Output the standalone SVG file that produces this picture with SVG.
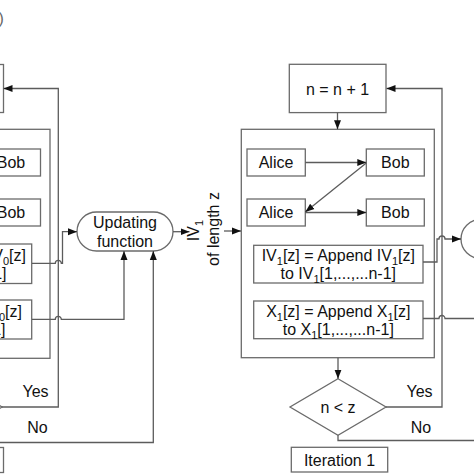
<svg xmlns="http://www.w3.org/2000/svg" width="474" height="474" viewBox="0 0 474 474">
<defs>
<style>
.box{fill:#fff;stroke:#6b6b6b;stroke-width:1.3}
.ln{fill:none;stroke:#5c5c5c;stroke-width:1.3}
.arr{marker-end:url(#ah)}
text{font-family:"Liberation Sans",Arial,sans-serif;font-size:16px;fill:#111}
.c{text-anchor:middle}
.e{text-anchor:end}
.sub{font-size:11px}
</style>
<marker id="ah" markerWidth="10" markerHeight="8" refX="9" refY="4" orient="auto" markerUnits="userSpaceOnUse"><path d="M0,0.5 L9,4 L0,7.5 z" fill="#111"/></marker>
</defs>
<rect width="474" height="474" fill="#fff"/>
<text x="-1.5" y="23.5" fill="#555" style="fill:#666">)</text>

<!-- Left iteration (partially visible) -->
<g id="left-increment"><rect class="box" x="-94" y="64.5" width="97.5" height="48"/></g>
<g id="left-block"><rect class="box" x="-143" y="129.3" width="193" height="229"/></g>
<g id="left-bob1"><rect class="box" x="-18" y="149" width="58.5" height="27"/><text class="c" x="11" y="168.3">Bob</text></g>
<g id="left-bob2"><rect class="box" x="-18" y="199" width="58.5" height="27"/><text class="c" x="11" y="218.3">Bob</text></g>
<g id="left-iv"><rect class="box" x="-140" y="244" width="171.7" height="39.5"/>
<text class="e" x="26" y="261">IV<tspan class="sub" dy="4">0</tspan><tspan dy="-4">[z]</tspan></text>
<text class="e" x="6.5" y="279">n-1]</text></g>
<g id="left-x"><rect class="box" x="-140" y="300" width="171.7" height="39"/>
<text class="e" x="22" y="317">X<tspan class="sub" dy="4">0</tspan><tspan dy="-4">[z]</tspan></text>
<text class="e" x="5.5" y="335">n-1]</text></g>
<g id="left-decision"><polygon class="box" points="-46,378.7 2,407 -46,435.3 -94,407"/></g>
<g id="left-iteration"><rect class="box" x="-93" y="447.5" width="96.5" height="25"/></g>
<g id="left-update"><rect class="box" x="77" y="212" width="96" height="39" rx="19.5"/>
<text class="c" x="125" y="227.5">Updating</text><text class="c" x="125" y="246.5">function</text></g>

<g id="iv-label">
<text class="c" transform="translate(199,230.5) rotate(-90)">IV<tspan class="sub" dy="4">1</tspan></text>
<text class="c" transform="translate(219,229) rotate(-90)">of length z</text>
</g>

<!-- Right iteration -->
<g id="increment"><rect class="box" x="289.3" y="64.3" width="96.7" height="48.3"/><text class="c" x="337.5" y="94.5">n = n + 1</text></g>
<g id="block"><rect class="box" x="241.3" y="129.3" width="193" height="228.4"/></g>
<g id="alice1"><rect class="box" x="247" y="149" width="58.3" height="27"/><text class="c" x="276" y="168.3">Alice</text></g>
<g id="bob1"><rect class="box" x="366.3" y="149" width="58" height="27"/><text class="c" x="395.3" y="168.3">Bob</text></g>
<g id="alice2"><rect class="box" x="247" y="199" width="58.3" height="27"/><text class="c" x="276" y="218.3">Alice</text></g>
<g id="bob2"><rect class="box" x="366.3" y="199" width="58" height="27"/><text class="c" x="395.3" y="218.3">Bob</text></g>
<g id="iv-append"><rect class="box" x="253.7" y="245.3" width="169.3" height="37.7"/>
<text class="c" x="338.3" y="261">IV<tspan class="sub" dy="4">1</tspan><tspan dy="-4">[z] = Append IV</tspan><tspan class="sub" dy="4">1</tspan><tspan dy="-4">[z]</tspan></text>
<text class="c" x="338.3" y="279">to IV<tspan class="sub" dy="4">1</tspan><tspan dy="-4">[1,...,...n-1]</tspan></text></g>
<g id="x-append"><rect class="box" x="253.7" y="301" width="169.3" height="37.7"/>
<text class="c" x="338.3" y="317">X<tspan class="sub" dy="4">1</tspan><tspan dy="-4">[z] = Append X</tspan><tspan class="sub" dy="4">1</tspan><tspan dy="-4">[z]</tspan></text>
<text class="c" x="338.3" y="335">to X<tspan class="sub" dy="4">1</tspan><tspan dy="-4">[1,...,...n-1]</tspan></text></g>
<g id="decision"><polygon class="box" points="338,378.7 386,407 338,435.3 290,407"/><text class="c" x="338" y="413">n &lt; z</text></g>
<g id="iteration1"><rect class="box" x="291.3" y="447.3" width="96.4" height="24.7"/><text class="c" x="339.5" y="466">Iteration 1</text></g>
<g id="right-update"><rect class="box" x="461" y="219.5" width="96" height="39" rx="19.5"/></g>

<g id="labels">
<text class="c" x="35.5" y="397">Yes</text><text class="c" x="37.5" y="433">No</text>
<text class="c" x="419.5" y="397">Yes</text><text class="c" x="421" y="433">No</text>
</g>

<g id="connectors">
<path class="ln arr" d="M2,407 H58.3 V88.5 H3.5"/>
<path class="ln arr" d="M32,263.3 H55.3 A3,3 0 0 1 61.3,263.3 H62.5 V231.7 H77"/>
<path class="ln arr" d="M32,319.3 H55.3 A3,3 0 0 1 61.3,319.3 H124 V251"/>
<path class="ln arr" d="M0,442.5 H153.3 V251"/>
<path class="ln arr" d="M173,231.7 H189.5"/>
<path class="ln arr" d="M224,231 H241"/>
<path class="ln arr" d="M337.5,112.6 V129.3"/>
<path class="ln arr" d="M305.3,162.5 H366.3"/>
<path class="ln arr" d="M366.3,163 L305.3,212"/>
<path class="ln arr" d="M305.3,212.5 H366.3"/>
<path class="ln arr" d="M338,357.7 V378.7"/>
<path class="ln arr" d="M386,407 H442 V88.5 H386.5"/>
<path class="ln" d="M338,435.3 V440.5 H474"/>
<path class="ln arr" d="M423,262 H437 V239 H439 A3,3 0 0 1 445,239 H461"/>
<path class="ln" d="M423,318.5 H439 A3,3 0 0 1 445,318.5 H474"/>
</g>
</svg>
